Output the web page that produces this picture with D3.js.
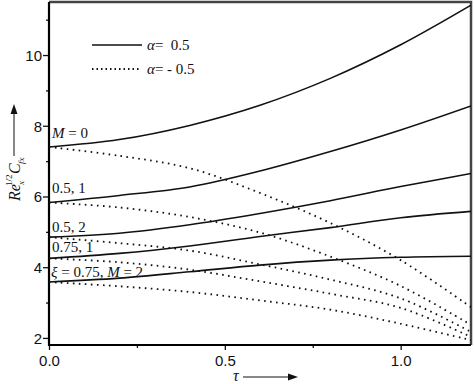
<!DOCTYPE html>
<html>
<head>
<meta charset="utf-8">
<script src="https://cdn.jsdelivr.net/npm/d3@7"></script>
<style>
  body { margin: 0; background: #fff; }
  svg { display: block; }
  .tick text { font-family: 'Liberation Sans', Arial, sans-serif; font-size: 15px; fill: #111; }
  .lbl { font-family: 'Liberation Serif', 'Times New Roman', serif; font-size: 15px; fill: #111; }
</style>
</head>
<body>
<div id="chart"></div>
<script>
// tau grid shared by all curves
var tau = [0, 0.2, 0.4, 0.6, 0.8, 1.0, 1.2]

// alpha = 0.5 (solid)
var solidM0 = [7.4, 7.61, 8.01, 8.58, 9.34, 10.29, 11.41]
var solid05_1 = [5.83, 6.03, 6.27, 6.72, 7.27, 7.88, 8.56]
var solid05_2 = [4.85, 4.96, 5.2, 5.52, 5.88, 6.28, 6.65]
var solid075_1 = [4.25, 4.39, 4.6, 4.87, 5.12, 5.4, 5.58]
var solid075_2 = [3.58, 3.69, 3.87, 4.06, 4.2, 4.28, 4.31]

// alpha = -0.5 (dotted)
var dotM0 = [7.4, 7.15, 6.8, 6.1, 5.25, 4.2, 2.87]
var dot05_1 = [5.83, 5.69, 5.42, 4.98, 4.3, 3.47, 2.37]
var dot05_2 = [4.85, 4.68, 4.47, 4.08, 3.65, 3.12, 2.17]
var dot075_1 = [4.25, 4.14, 3.93, 3.6, 3.25, 2.85, 2.03]
var dot075_2 = [3.58, 3.46, 3.3, 3.06, 2.8, 2.4, 1.94]

var yTicks = [2, 4, 6, 8, 10]
var yMinor = [3, 5, 7, 9, 11]
var xTicks = [0, 0.5, 1.0]
var xMinor = [0.25, 0.75]

var legendTexts = ['\u00a0 0.5', ' - 0.5']

var W = 474, H = 384
var pLeft = 49, pRight = 471, pTop = 2, pBottom = 345

var svg = d3.select('#chart').append('svg')
    .attr('width', W)
    .attr('height', H)

var xScale = d3.scaleLinear().domain([0, 1.2]).range([pLeft, pRight])
var yScale = d3.scaleLinear().domain([1.8, 11.5]).range([pBottom, pTop])

// frame: top and right
svg.append('path')
    .attr('d', `M${pLeft},${pTop}H${pRight}V${pBottom}`)
    .attr('fill', 'none')
    .attr('stroke', '#444')
    .attr('stroke-width', 2.5)

// axes
var yAxis = svg.append('g')
    .attr('transform', `translate(${pLeft},0)`)
    .call(d3.axisLeft(yScale).tickValues(yTicks).tickFormat(d3.format('d')).tickSize(6).tickSizeOuter(0))
svg.append('g')
    .attr('transform', `translate(${pLeft},0)`)
    .call(d3.axisLeft(yScale).tickValues(yMinor).tickFormat('').tickSize(3).tickSizeOuter(0))

var xAxis = svg.append('g')
    .attr('transform', `translate(0,${pBottom})`)
    .call(d3.axisBottom(xScale).tickValues(xTicks).tickFormat(d3.format('.1f')).tickSize(5).tickSizeOuter(0))
svg.append('g')
    .attr('transform', `translate(0,${pBottom})`)
    .call(d3.axisBottom(xScale).tickValues(xMinor).tickFormat('').tickSize(3).tickSizeOuter(0))

svg.selectAll('.domain').remove()
svg.selectAll('.tick line').attr('stroke', '#111').attr('stroke-width', 1.3)
yAxis.selectAll('.tick text').attr('x', -7).attr('dy', '0.36em')
xAxis.selectAll('.tick text').attr('y', 10)

// axis lines (thick)
svg.append('line')
    .attr('x1', pLeft).attr('x2', pLeft)
    .attr('y1', pTop).attr('y2', pBottom + 1)
    .attr('stroke', '#000').attr('stroke-width', 2.2)
svg.append('line')
    .attr('x1', pLeft - 1).attr('x2', pRight)
    .attr('y1', pBottom).attr('y2', pBottom)
    .attr('stroke', '#000').attr('stroke-width', 2.2)

// curves
var lineFunc = d3.line()
    .x((d, i) => xScale(tau[i]))
    .y(d => yScale(d))
    .curve(d3.curveCatmullRom.alpha(0.5))

var solids = [solidM0, solid05_1, solid05_2, solid075_1, solid075_2]
var dots = [dotM0, dot05_1, dot05_2, dot075_1, dot075_2]

svg.append('defs').append('clipPath').attr('id', 'clip')
    .append('rect').attr('x', pLeft).attr('y', pTop).attr('width', pRight - pLeft).attr('height', pBottom - pTop)
var plot = svg.append('g').attr('clip-path', 'url(#clip)')

dots.forEach(s => {
    plot.append('path')
        .attr('d', lineFunc(s))
        .attr('fill', 'none')
        .attr('stroke', '#111')
        .attr('stroke-width', 1.8)
        .attr('stroke-dasharray', '1.6 4.4')
})
solids.forEach(s => {
    plot.append('path')
        .attr('d', lineFunc(s))
        .attr('fill', 'none')
        .attr('stroke', '#111')
        .attr('stroke-width', 1.6)
})

// curve labels
function label(x, y, parts) {
    var t = svg.append('text').attr('class', 'lbl').attr('x', x).attr('y', y)
    parts.forEach(p => {
        t.append('tspan').text(p[0]).style('font-style', p[1] ? 'italic' : 'normal')
    })
}
label(52, 138, [['M', 1], [' = 0', 0]])
label(52, 193, [['0.5, 1', 0]])
label(52, 232, [['0.5, 2', 0]])
label(52, 252, [['0.75, 1', 0]])
label(51, 277, [['ξ', 1], [' = 0.75, ', 0], ['M', 1], [' = 2', 0]])

// legend
var legend = svg.append('g')
legend.append('line')
    .attr('x1', 92).attr('x2', 142).attr('y1', 45).attr('y2', 45)
    .attr('stroke', '#111').attr('stroke-width', 1.6)
legend.append('line')
    .attr('x1', 92).attr('x2', 141).attr('y1', 69).attr('y2', 69)
    .attr('stroke', '#111').attr('stroke-width', 2).attr('stroke-dasharray', '1.5 3')
legendTexts.forEach((txt, i) => {
    var t = legend.append('text').attr('class', 'lbl').attr('x', 147).attr('y', 50 + i * 24)
    t.append('tspan').text('α').style('font-style', 'italic')
    t.append('tspan').text('=' + txt)
})

// y title
var yt = svg.append('text')
    .attr('class', 'lbl')
    .attr('transform', 'translate(20,201) rotate(-90)')
    .style('font-size', '16px')
yt.append('tspan').attr('x', 0).attr('y', 0).style('font-style', 'italic').text('Re')
yt.append('tspan').attr('x', 16).attr('y', 4).style('font-size', '9px').style('font-style', 'italic').text('x')
yt.append('tspan').attr('x', 15).attr('y', -8).style('font-size', '9px').text('1/2')
yt.append('tspan').attr('x', 27).attr('y', 0).style('font-style', 'italic').text('C')
yt.append('tspan').attr('x', 37).attr('y', 4).style('font-size', '9px').style('font-style', 'italic').text('fx')
svg.append('line')
    .attr('x1', 14).attr('x2', 14).attr('y1', 156).attr('y2', 112)
    .attr('stroke', '#111').attr('stroke-width', 1)
svg.append('path')
    .attr('d', 'M14,104 L10.5,114 L17.5,114 Z')
    .attr('fill', '#111')

// x title
svg.append('text')
    .attr('class', 'lbl')
    .attr('x', 233).attr('y', 381)
    .style('font-size', '16px')
    .style('font-style', 'italic')
    .text('τ')
svg.append('line')
    .attr('x1', 243).attr('x2', 290).attr('y1', 377).attr('y2', 377)
    .attr('stroke', '#111').attr('stroke-width', 1)
svg.append('path')
    .attr('d', 'M298,377 L288,373.5 L288,380.5 Z')
    .attr('fill', '#111')
</script>
</body>
</html>
